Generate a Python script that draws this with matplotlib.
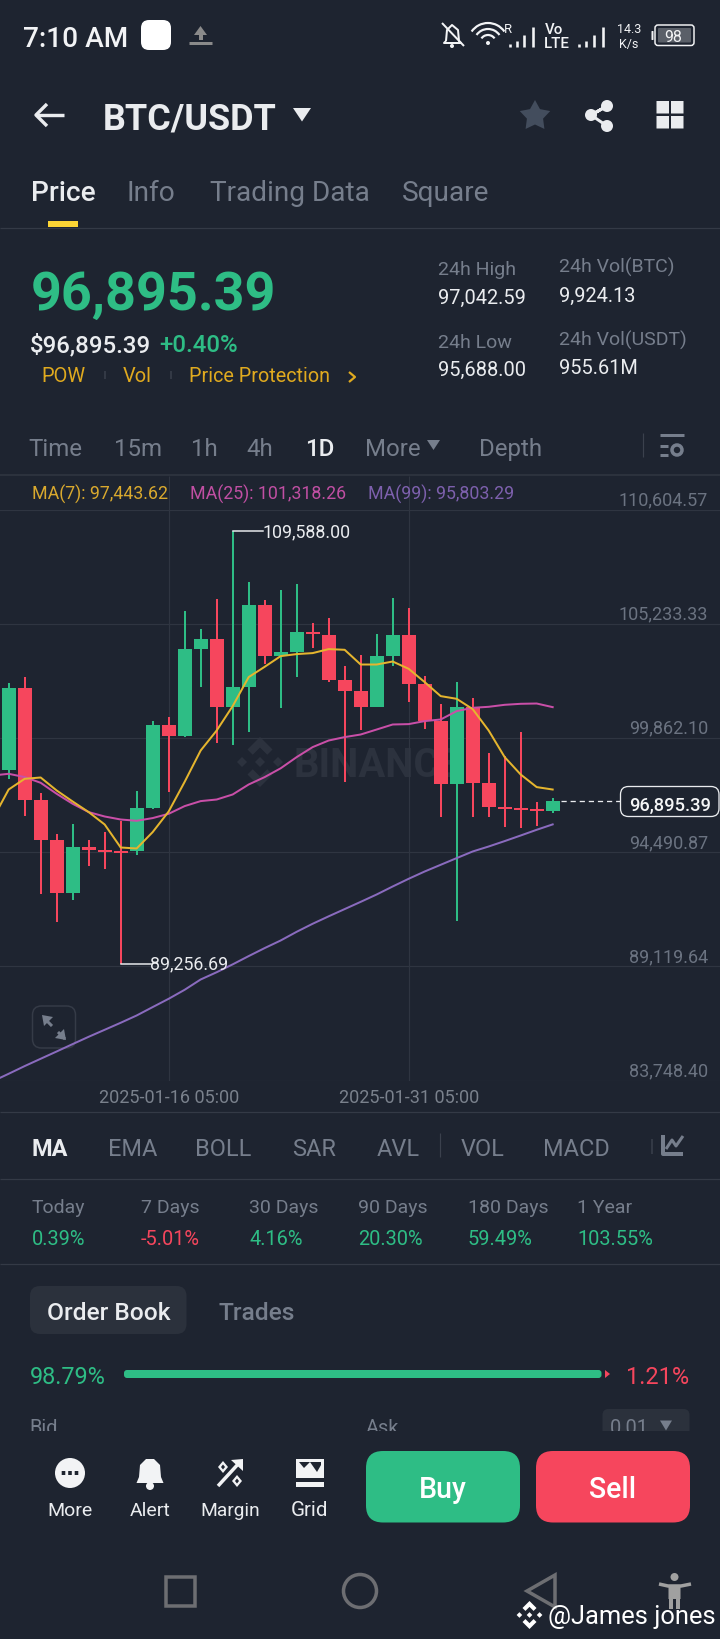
from matplotlib import pyplot as plt
from matplotlib.patches import FancyBboxPatch, Polygon, Circle, Arc, Rectangle
from matplotlib.transforms import ScaledTranslation
import numpy as np

plt.rcParams['font.family'] = ['Roboto', 'DejaVu Sans']

# Candles, left to right (one per day)
opens = [98371, 102228, 96960, 95079, 92554, 94736, 94609, 94548, 94529, 96551, 100487, 99984,
         104076, 104546, 101334, 102261, 106145, 103718, 103907, 104875, 104734, 102618, 102087, 101334,
         103733, 104720, 102430, 100643, 97703, 101320, 97760, 96617, 96551, 96504, 96443]
highs = [102463, 102731, 97275, 95375, 95832, 95046, 95455, 95940, 97369, 100676, 100864, 105849,
         104988, 106413, 109588, 107227, 106380, 106837, 107119, 105270, 105506, 103248, 103780, 104767,
         106446, 106004, 102778, 101461, 102496, 101743, 99157, 99015, 100144, 96880, 97042.59]
lows = [97915, 96194, 92507, 91208, 92224, 93823, 93715, 89256.69, 94341, 96504, 97337, 99937,
        102289, 99641, 99547, 100144, 103356, 101273, 102759, 104109, 102524, 97793, 100266, 101334,
        103276, 101555, 100299, 96147, 91237, 96147, 96147, 95676, 95611, 95705, 96349]
closes = [102228, 96960, 95079, 92554, 94736, 94609, 94515, 94454, 96551, 100487, 99984, 104062,
          104546, 101334, 102261, 106145, 103718, 103907, 104861, 104753, 102618, 102087, 101334, 103733,
          104720, 102430, 100643, 97703, 101320, 97760, 96617, 96523, 96457, 96410, 96895.39]

# Moving averages, first value belongs to the candle left of the screen
ma7 = [96053, 97445, 97948, 98009, 97398, 96880, 96382, 95799, 94717, 94670, 95441, 96410, 97807,
       99279, 100219, 101367, 102731, 103215, 103718, 103813, 103860, 104048, 104015, 103323, 103323,
       103464, 103121, 102496, 101837, 101710, 101226, 100219, 98968, 98150, 97558, 97443.62]
ma25 = [98103, 98183, 98028, 97760, 97242, 96772, 96382, 96175, 96034, 95973, 96100, 96302, 96664,
        96899, 96974, 97210, 97680, 98028, 98442, 98968, 99439, 99749, 99909, 100031, 100266,
        100502, 100520, 100662, 100737, 101132, 101287, 101334, 101428, 101475, 101489, 101318.26]
ma99 = [83721, 84074, 84436, 84780, 85123, 85471, 85814, 86143, 86473, 86816, 87211, 87601, 88025,
        88509, 88850, 89220, 89609, 89986, 90343, 90752, 91130, 91480, 91820, 92160, 92507,
        92883, 93245, 93588, 93903, 94218, 94529, 94764, 95018, 95281, 95549, 95803.29]

price_ticks = [110604.57, 105233.33, 99862.10, 94490.87, 89119.64, 83748.40]
price_labels = ['110,604.57', '105,233.33', '99,862.10', '94,490.87', '89,119.64', '83,748.40']
date_ticks = [10, 25]
date_labels = ['2025-01-16 05:00', '2025-01-31 05:00']

period_names = ['Today', '7 Days', '30 Days', '90 Days', '180 Days', '1 Year']
period_changes = ['0.39%', '-5.01%', '4.16%', '20.30%', '59.49%', '103.55%']

BG = '#1e2430'
LINE = '#2f3541'
PANEL = '#2b313c'
GREEN = '#2ebd85'
RED = '#f6465d'
GOLD = '#e0aa1f'
GREY = '#767e8c'
WHITE = '#eaecef'

fig = plt.figure(figsize=(7.2, 16.4), dpi=100, facecolor=BG)

# whole screen in pixel coordinates
bg = fig.add_axes([0, 0, 1, 1], zorder=0)
bg.set_xlim(0, 720), bg.set_ylim(1640, 0), bg.axis('off')
top = fig.add_axes([0, 0, 1, 1], zorder=2)
top.set_xlim(0, 720), top.set_ylim(1640, 0), top.axis('off')


def px(size):
    return size * 0.72


def txt(x, y, s, size, color=WHITE, weight='normal', ha='left', ax=None, zorder=5):
    if ha == 'left':
        x -= 1.2    # side bearing of the font
    (ax or bg).text(x, y, s, fontsize=px(size), color=color, fontweight=weight, ha=ha, va='baseline', zorder=zorder)


def line(xs, ys, color=LINE, lw=1.0, ax=None, zorder=2, **kw):
    (ax or bg).plot(xs, ys, color=color, lw=px(lw), zorder=zorder, solid_capstyle=kw.pop('cap', 'butt'), **kw)


def box(x0, y0, x1, y1, color, rad=0, ax=None, zorder=2, edge='none', lw=0):
    (ax or bg).add_patch(FancyBboxPatch((x0, y0), x1 - x0, y1 - y0, boxstyle=f'round,pad=0,rounding_size={rad}',
                                        fc=color, ec=edge, lw=px(lw), zorder=zorder))


def poly(points, color, ax=None, zorder=3, **kw):
    (ax or bg).add_patch(Polygon(points, closed=True, fc=color, ec='none', zorder=zorder, **kw))


def logo(cx, cy, r, color, ax=None, zorder=3):
    for dx in [-0.72 * r, 0, 0.72 * r]:
        d = 0.2 * r
        poly([(cx + dx, cy - d), (cx + dx + d, cy), (cx + dx, cy + d), (cx + dx - d, cy)], color, ax, zorder)
    for s in [-1, 1]:
        poly([(cx, cy + s * r), (cx + 0.5 * r, cy + s * 0.5 * r), (cx + 0.29 * r, cy + s * 0.29 * r),
              (cx, cy + s * 0.58 * r), (cx - 0.29 * r, cy + s * 0.29 * r), (cx - 0.5 * r, cy + s * 0.5 * r)],
             color, ax, zorder)


# Status bar
txt(24, 47, '7:10 AM', 28, '#f2f3f5', 'medium')
box(141, 21, 171, 51, '#ffffff', 8)
poly([(200.5, 27), (207, 36), (194, 36)], '#8a8a8a')
line([200.5, 200.5], [33, 41], '#8a8a8a', 4)
line([189, 212], [44, 44], '#8a8a8a', 3)
# muted bell
line([446, 447, 452, 458, 459, 461, 444, 446], [42, 31, 26, 31, 42, 44, 44, 42], '#f2f3f5', 2)
line([442, 464], [24, 47], '#f2f3f5', 2)
bg.add_patch(Circle((452, 47), 2, fc='#f2f3f5', ec='none'))
# wifi
for r in [8, 14, 20]:
    bg.add_patch(Arc((488, 44), 2 * r, 2 * r, theta1=215, theta2=325, ec='#f2f3f5', lw=px(2.2)))
bg.add_patch(Circle((488, 44), 2, fc='#f2f3f5', ec='none'))
txt(505, 33, 'R', 13, '#f2f3f5')
for x, h in zip([510, 517, 524, 533], [3, 6, 12, 20]):
    line([x, x], [48 - h, 48], '#f2f3f5', 2.6)
txt(546, 34, 'Vo', 15, '#f2f3f5', 'medium')
txt(545, 48, 'LTE', 15, '#f2f3f5', 'medium')
for x, h in zip([579, 586, 594, 603], [3, 6, 12, 20]):
    line([x, x], [48 - h, 48], '#f2f3f5', 2.6)
txt(629, 33, '14.3', 12.5, '#f2f3f5', ha='center')
txt(629, 48, 'K/s', 12.5, '#f2f3f5', ha='center')
box(655, 26, 694, 46.5, 'none', 3, edge='#f2f3f5', lw=1.5)
box(658, 29, 691, 43.5, '#5a5f68', 1)
box(651.5, 32, 653.5, 41, '#f2f3f5', 0.5)
txt(673, 42.5, '98', 16, '#f2f3f5', ha='center')

# Title row
line([37, 64], [116, 116], WHITE, 3.4)
line([47, 36, 47], [105, 116, 127], WHITE, 3.4)
txt(104, 129.5, 'BTC/USDT', 36, WHITE, 'bold')
poly([(293, 109), (311, 109), (302, 122.5)], WHITE)
star_a = np.deg2rad(np.arange(10) * 36 - 90)
star_r = np.array([16, 8.5] * 5)
poly(list(zip(535 + star_r * np.cos(star_a), 117 + star_r * np.sin(star_a))), '#434d5d')
line([591, 607, 591, 607], [116, 107, 116, 127], WHITE, 3)
for cx, cy in [(607, 107), (591, 116), (607, 127)]:
    bg.add_patch(Circle((cx, cy), 6, fc=WHITE, ec='none', zorder=3))
for x0 in [656.5, 671]:
    for y0 in [102, 117]:
        box(x0, y0, x0 + 12.5, y0 + 12.5, WHITE)

# Tabs
txt(32, 201, 'Price', 28, WHITE, 'medium')
txt(127.5, 201, 'Info', 28, GREY)
txt(211, 201, 'Trading Data', 28, GREY)
txt(403, 201, 'Square', 28, GREY)
box(48, 222, 78, 228, '#fcd535')
line([0, 720], [228.5, 228.5], '#343a46', 1.2)

# Price block
txt(32, 309.5, '96,895.39', 54, GREEN, 'bold')
txt(31, 352.5, '$96,895.39', 24, WHITE, 'medium')
txt(160.5, 352.5, '+0.40%', 24, GREEN, 'medium')
txt(42.5, 382.5, 'POW', 20, GOLD)
txt(124, 382.5, 'Vol', 20, GOLD)
txt(190.5, 382.5, 'Price Protection', 19.8, GOLD)
line([105, 105], [372, 380], '#3b414d', 1.5)
line([171, 171], [372, 380], '#3b414d', 1.5)
line([349, 355, 349], [373, 378, 383], GOLD, 2.2)

txt(439.5, 275, '24h High', 19.5, GREY)
txt(439.5, 304, '97,042.59', 20, WHITE)
txt(439.5, 347.5, '24h Low', 19.5, GREY)
txt(439.5, 376, '95,688.00', 20, WHITE)
txt(560.5, 273, '24h Vol(BTC)', 19.5, GREY)
txt(560.5, 302, '9,924.13', 20, WHITE)
txt(560.5, 346, '24h Vol(USDT)', 19.5, GREY)
txt(560.5, 374, '955.61M', 20, WHITE)

# Interval row
for x, s in zip([30, 115, 192, 248, 366, 480.5], ['Time', '15m', '1h', '4h', 'More', 'Depth']):
    txt(x, 456, s, 24, GREY)
txt(306.5, 456, '1D', 24, WHITE, 'medium')
poly([(427, 441), (440, 441), (433.5, 451)], GREY)
line([643, 643], [434, 458], '#3b414d', 1.2)
line([660, 684], [436, 436], GREY, 3)
line([660, 668], [447, 447], GREY, 3)
line([660, 668], [456, 456], GREY, 3)
bg.add_patch(Circle((677, 451), 5, fc='none', ec=GREY, lw=px(3.5)))

# Chart frame and legend
line([0, 720], [476, 476], '#2c323d', 2)
txt(33, 500, 'MA(7): 97,443.62', 17.7, '#d9a92e')
txt(191, 500, 'MA(25): 101,318.26', 17.7, '#c04fa3')
txt(369, 500, 'MA(99): 95,803.29', 17.7, '#7d60ad')
for x in [168.7, 408.7]:
    line([x, x], [477, 511], LINE, 1)

# Watermark sits under the candles
logo(260, 763, 25, '#2c323e', zorder=1)
bg.text(294, 777, 'BINANCE', fontsize=px(40), color='#2c323e', fontweight='bold', zorder=1, va='baseline')

# Candle chart: 0..720 px wide, y 510.7..1081.7 px
ax = fig.add_axes([0, 1 - 1081.7 / 1640, 1, (1081.7 - 510.7) / 1640], zorder=1)
ax.patch.set_visible(False)
for s in ax.spines.values():
    s.set_visible(False)
ax.set_xlim(-8.67 / 16, (720 - 8.67) / 16)
ax.set_ylim(price_ticks[-1], price_ticks[0])
ax.set_axisbelow(True)
ax.grid(True, color=LINE, lw=px(1.2))
ax.set_yticks(price_ticks)
ax.set_yticklabels(price_labels, va='bottom', ha='right', fontsize=px(18), color='#6b7381')
ax.yaxis.tick_right()
ax.tick_params(axis='y', length=0, pad=-8.5)
lift = ScaledTranslation(0, 1 / 72, fig.dpi_scale_trans)
for label in ax.get_yticklabels():
    label.set_transform(label.get_transform() + lift)
ax.set_xticks(date_ticks)
ax.set_xticklabels(date_labels, fontsize=px(18), color='#7a818c')
ax.tick_params(axis='x', length=0, pad=5.5)

for i in range(len(opens)):
    c = GREEN if closes[i] >= opens[i] else RED
    ax.vlines(i, lows[i], highs[i], color=c, lw=px(2), zorder=3)
    ax.bar(i, abs(closes[i] - opens[i]), bottom=min(opens[i], closes[i]), width=14 / 16, color=c, zorder=3)

ma_x = list(range(-1, len(opens)))
ax.plot(ma_x, ma99, color='#8a6bbe', lw=px(2), zorder=4)
ax.plot(ma_x, ma25, color='#c94fa8', lw=px(2), zorder=4)
ax.plot(ma_x, ma7, color='#e5b52e', lw=px(2), zorder=4)

# High / low markers
hi = highs.index(max(highs))
lo = lows.index(min(lows))
ax.plot([hi, hi + 1.9], [highs[hi]] * 2, color=WHITE, lw=px(1.5), zorder=4)
ax.text(hi + 1.85, highs[hi], f'{highs[hi]:,.2f}', color=WHITE, fontsize=px(17.7), va='center', zorder=5)
ax.plot([lo, lo + 1.9], [lows[lo]] * 2, color=WHITE, lw=px(1.5), zorder=4)
ax.text(lo + 1.85, lows[lo], f'{lows[lo]:,.2f}', color=WHITE, fontsize=px(17.7), va='center', zorder=5)

# Last price line and tag
ax.plot([len(opens) - 0.45, 38.2], [closes[-1]] * 2, color=WHITE, lw=px(1.3), ls=(0, (4, 3)), zorder=4)
box(620.5, 787.5, 719, 817.5, BG, 8, ax=top, edge=WHITE, lw=1.3)
txt(670, 810.5, f'{closes[-1]:,.2f}', 18.3, '#f5f6f7', 'medium', 'center', ax=top)

# Expand button
box(32.5, 1007, 75.5, 1049, 'none', 9, edge='#353b47', lw=1.5)
line([44, 52], [1019, 1027], GREY, 3)
line([58, 65], [1033, 1040], GREY, 3)
poly([(42, 1016), (53, 1018), (44, 1027)], GREY)
poly([(66, 1041), (55, 1039), (64, 1030)], GREY)

# Indicator row
line([0, 720], [1112.5, 1112.5], '#343a46', 1.2)
txt(33, 1156, 'MA', 23.5, WHITE, 'bold')
for x, s in zip([109, 196.5, 293, 378, 461.5, 544.5], ['EMA', 'BOLL', 'SAR', 'AVL', 'VOL', 'MACD']):
    txt(x, 1156, s, 23.5, GREY)
line([439.5, 439.5], [1134, 1158], '#3b414d', 1.2)
line([652, 652], [1140, 1155], '#3b414d', 1.5)
line([663, 663, 683], [1136, 1155, 1155], GREY, 4)
line([666, 672, 676, 683], [1150, 1141, 1147, 1137], GREY, 3)
line([0, 720], [1179.5, 1179.5], '#343a46', 1.2)

# Period changes
for x, name, change in zip([33, 142, 250.5, 359, 469, 578.5], period_names, period_changes):
    txt(x, 1213.5, name, 19.5, GREY)
    txt(x, 1245, change, 20, RED if change.startswith('-') else GREEN)
line([0, 720], [1264.5, 1264.5], '#343a46', 1.2)

# Order book
box(30, 1287, 186.5, 1335, PANEL, 10)
txt(48, 1320.5, 'Order Book', 24.5, WHITE, 'medium')
txt(220, 1320.5, 'Trades', 24.5, GREY, 'medium')
txt(31, 1384, '98.79%', 23.5, GREEN)
box(124, 1371, 601.5, 1379, GREEN, 3)
poly([(605, 1371), (610, 1375), (605, 1379)], RED)
txt(689, 1384, '1.21%', 23.5, RED, ha='right')
txt(31, 1434, 'Bid', 20, GREY, zorder=2)
txt(367, 1434, 'Ask', 20, GREY, zorder=2)
box(602.5, 1410, 689.5, 1445, PANEL, 6)
txt(611.5, 1434, '0.01', 20, GREY, zorder=3)
poly([(660, 1421.5), (672, 1421.5), (666, 1431.5)], GREY)
bg.add_patch(Rectangle((0, 1431.7), 720, 209, fc=BG, ec='none', zorder=4))

# Bottom bar
txt(70, 1516.5, 'More', 19.5, WHITE, ha='center')
txt(150, 1516.5, 'Alert', 19.5, WHITE, ha='center')
txt(230.5, 1516.5, 'Margin', 19.2, WHITE, ha='center')
txt(309.5, 1516.5, 'Grid', 20.5, WHITE, ha='center')
bg.add_patch(Circle((70, 1474), 15, fc='#f2f3f5', ec='none', zorder=5))
for x in [63.5, 70, 76.5]:
    box(x - 1.8, 1472, x + 1.8, 1476, BG, zorder=6)
poly([(136.5, 1484), (139, 1478), (140, 1466), (146, 1460), (154, 1460), (160, 1466), (161, 1478), (163.5, 1484)],
     '#f2f3f5', zorder=5)
bg.add_patch(Circle((150, 1487), 4, fc='#f2f3f5', ec='none', zorder=5))
line([218, 240], [1487, 1463], '#f2f3f5', 3.5, zorder=5)
poly([(231, 1461), (243, 1460), (243, 1472)], '#f2f3f5', zorder=5)
for cx, cy in [(223, 1468), (237, 1482)]:
    poly([(cx, cy - 6), (cx + 5, cy), (cx, cy + 6), (cx - 5, cy)], '#f2f3f5', zorder=5)
    poly([(cx, cy - 2.5), (cx + 2, cy), (cx, cy + 2.5), (cx - 2, cy)], BG, zorder=6)
poly([(296, 1460), (324, 1460), (324, 1479), (296, 1479)], '#f2f3f5', zorder=5)
poly([(299, 1463), (304, 1469), (310, 1463), (317, 1473), (321, 1466), (321, 1463)], BG, zorder=6)
poly([(296, 1479), (303, 1470), (310, 1478), (296, 1479)], '#f2f3f5', zorder=6)
box(296, 1483, 324, 1488, '#f2f3f5', zorder=5)

box(366, 1452, 520, 1523.5, GREEN, 17, zorder=5)
box(536, 1452, 690, 1523.5, RED, 17, zorder=5)
txt(443, 1498, 'Buy', 28.5, '#ffffff', 'medium', 'center', zorder=6)
txt(613, 1498, 'Sell', 28.5, '#ffffff', 'medium', 'center', zorder=6)

# Navigation bar
bg.add_patch(Rectangle((165.5, 1577.5), 29, 29, fc='none', ec='#6d6e72', lw=px(3.5), zorder=5))
bg.add_patch(Circle((360, 1592), 16.5, fc='none', ec='#6d6e72', lw=px(3.5), zorder=5))
bg.add_patch(Polygon([(555, 1576), (527, 1592), (555, 1608)], closed=True, fc='none', ec='#6d6e72', lw=px(3.5), zorder=5))
bg.add_patch(Circle((674.5, 1578), 4, fc='#a0a0a0', ec='none', zorder=5))
line([659, 668, 681, 691], [1585, 1587, 1587, 1585], '#a0a0a0', 3.5, zorder=5)
box(668.5, 1586, 680.5, 1600, '#a0a0a0', zorder=5)
line([671, 671], [1598, 1610], '#a0a0a0', 4, zorder=5)
line([678, 678], [1598, 1610], '#a0a0a0', 4, zorder=5)

logo(529.5, 1616, 14, '#ffffff', ax=top, zorder=6)
txt(549.5, 1624, '@James jones', 25.5, '#ffffff', ax=top, zorder=6)

fig.savefig('out.png', dpi=100, facecolor=BG)
